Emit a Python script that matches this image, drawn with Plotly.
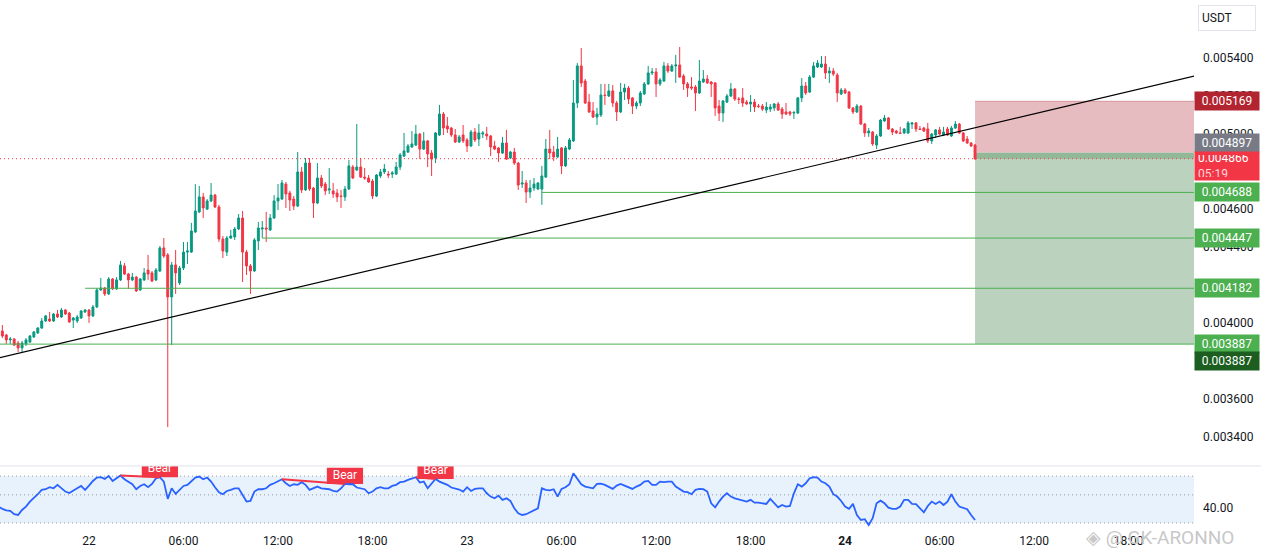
import pandas as pd
import plotly.graph_objects as go

# =====================================================
# Data  (15 minute candles, prices in 1e-6 USDT)
# =====================================================

START = "2025-07-21 18:15"

OPEN = [
    4025, 3956, 3935, 3909, 3914, 3893, 3867, 3888, 3898, 3925,
    3946, 3972, 4009, 4020, 4009, 4046, 4030, 4067, 4051, 4014,
    4009, 4025, 4057, 4067, 4036, 4083, 4173, 4183, 4152, 4231,
    4178, 4226, 4300, 4257, 4226, 4241, 4173, 4226, 4278, 4263,
    4226, 4273, 4395, 4358, 4136, 4305, 4210, 4289, 4373, 4373,
    4479, 4585, 4664, 4600, 4643, 4674, 4611, 4442, 4373, 4447,
    4453, 4495, 4553, 4373, 4300, 4273, 4432, 4495, 4500, 4490,
    4553, 4643, 4653, 4732, 4685, 4653, 4616, 4796, 4701, 4843,
    4711, 4632, 4764, 4732, 4701, 4696, 4685, 4669, 4664, 4706,
    4822, 4806, 4822, 4769, 4764, 4748, 4669, 4775, 4796, 4785,
    4785, 4785, 4822, 4880, 4901, 4928, 4938, 4996, 4917, 4960,
    4896, 4870, 4991, 5102, 5039, 5028, 4991, 4954, 4991, 4965,
    4933, 5007, 4970, 4996, 4996, 4986, 4933, 4923, 4896, 4949,
    4870, 4901, 4843, 4732, 4738, 4690, 4711, 4706, 4706, 4769,
    4917, 4901, 4875, 4923, 4828, 4917, 4960, 5160, 5356, 5276,
    5165, 5118, 5086, 5097, 5202, 5197, 5224, 5160, 5113, 5218,
    5239, 5187, 5144, 5160, 5208, 5261, 5319, 5324, 5261, 5276,
    5356, 5329, 5356, 5361, 5303, 5261, 5245, 5245, 5213, 5271,
    5287, 5271, 5266, 5144, 5107, 5165, 5197, 5234, 5181, 5187,
    5165, 5155, 5165, 5144, 5144, 5123, 5128, 5134, 5155, 5128,
    5113, 5113, 5107, 5107, 5187, 5250, 5218, 5297, 5350, 5350,
    5366, 5319, 5329, 5308, 5208, 5229, 5218, 5134, 5113, 5144,
    5049, 5002, 5007, 4938, 4986, 5065, 5081, 5023, 5012, 5002,
    5002, 5002, 5049, 5055, 5023, 5028, 5023, 4960, 4991, 5018,
    4991, 5023, 4986, 5028, 5049, 5002, 4970, 4949, 4938,
]

HIGH = [
    4036, 3988, 3941, 3925, 3919, 3904, 3904, 3919, 3935, 3956,
    3977, 4025, 4041, 4057, 4051, 4067, 4078, 4072, 4057, 4030,
    4041, 4067, 4072, 4072, 4094, 4183, 4236, 4189, 4241, 4236,
    4241, 4326, 4315, 4263, 4263, 4247, 4236, 4289, 4358, 4273,
    4289, 4405, 4447, 4368, 4321, 4384, 4300, 4426, 4426, 4527,
    4732, 4722, 4685, 4653, 4738, 4680, 4622, 4458, 4458, 4490,
    4505, 4574, 4590, 4384, 4310, 4447, 4532, 4537, 4585, 4574,
    4674, 4732, 4754, 4743, 4696, 4669, 4901, 4822, 4870, 4870,
    4717, 4843, 4780, 4743, 4817, 4738, 4706, 4701, 4722, 4859,
    4833, 5049, 4870, 4817, 4780, 4759, 4785, 4812, 4838, 4801,
    4801, 4849, 4896, 5002, 4944, 5012, 5044, 5002, 5007, 4965,
    4912, 5007, 5150, 5113, 5086, 5034, 5023, 4991, 5044, 4975,
    5018, 5028, 5049, 5012, 5034, 4991, 4960, 4928, 4981, 5018,
    4907, 4923, 4849, 4801, 4754, 4754, 4764, 4743, 4828, 4970,
    5018, 4933, 4981, 4928, 4933, 4975, 5282, 5371, 5451, 5287,
    5208, 5165, 5134, 5261, 5261, 5261, 5255, 5171, 5266, 5261,
    5250, 5192, 5171, 5224, 5271, 5356, 5345, 5345, 5292, 5377,
    5371, 5366, 5414, 5456, 5313, 5271, 5297, 5255, 5387, 5334,
    5308, 5276, 5271, 5176, 5176, 5208, 5266, 5239, 5192, 5239,
    5176, 5202, 5181, 5155, 5155, 5165, 5155, 5160, 5165, 5139,
    5160, 5118, 5118, 5192, 5292, 5271, 5308, 5377, 5387, 5408,
    5408, 5350, 5345, 5319, 5239, 5239, 5224, 5139, 5155, 5150,
    5055, 5028, 5012, 4996, 5076, 5097, 5086, 5028, 5018, 5034,
    5028, 5065, 5060, 5060, 5039, 5034, 5055, 5002, 5023, 5034,
    5034, 5034, 5039, 5065, 5055, 5007, 4986, 4954, 4944,
]

LOW = [
    3956, 3919, 3888, 3888, 3877, 3845, 3845, 3877, 3893, 3919,
    3941, 3967, 4004, 4004, 4004, 4025, 4025, 4041, 3999, 3972,
    3999, 4020, 4051, 3999, 4030, 4078, 4168, 4141, 4146, 4173,
    4173, 4220, 4252, 4178, 4220, 4162, 4168, 4220, 4226, 4215,
    4220, 4268, 4342, 3449, 3882, 4152, 4199, 4278, 4310, 4368,
    4474, 4579, 4553, 4595, 4637, 4606, 4426, 4342, 4352, 4442,
    4437, 4490, 4215, 4252, 4152, 4268, 4384, 4447, 4426, 4484,
    4548, 4595, 4648, 4606, 4590, 4595, 4611, 4685, 4696, 4696,
    4553, 4627, 4711, 4674, 4680, 4659, 4637, 4606, 4643, 4701,
    4759, 4801, 4764, 4754, 4738, 4653, 4664, 4764, 4785, 4764,
    4764, 4780, 4806, 4875, 4896, 4923, 4933, 4864, 4912, 4822,
    4775, 4843, 4986, 4991, 5002, 4981, 4949, 4949, 4949, 4901,
    4928, 4954, 4933, 4975, 4965, 4880, 4912, 4849, 4891, 4859,
    4864, 4833, 4701, 4711, 4632, 4659, 4696, 4701, 4622, 4764,
    4864, 4854, 4870, 4785, 4822, 4912, 4954, 5134, 5245, 5155,
    5107, 5081, 5044, 5086, 5150, 5192, 5139, 5065, 5107, 5176,
    5155, 5102, 5128, 5144, 5202, 5255, 5308, 5192, 5250, 5271,
    5319, 5324, 5266, 5292, 5229, 5192, 5229, 5118, 5208, 5266,
    5261, 5192, 5092, 5065, 5060, 5160, 5192, 5171, 5155, 5139,
    5150, 5113, 5113, 5134, 5118, 5107, 5113, 5118, 5118, 5076,
    5097, 5092, 5076, 5102, 5165, 5202, 5213, 5292, 5345, 5345,
    5287, 5266, 5303, 5165, 5202, 5208, 5128, 5102, 5107, 5044,
    4981, 4981, 4933, 4917, 4981, 5060, 5018, 4991, 4996, 4996,
    4996, 4996, 5023, 5007, 5018, 5007, 4949, 4944, 4975, 4991,
    4986, 4986, 4981, 5023, 4996, 4954, 4944, 4928, 4859,
]

CLOSE = [
    3962, 3930, 3909, 3914, 3882, 3867, 3893, 3909, 3930, 3951,
    3972, 4009, 4036, 4009, 4046, 4030, 4067, 4046, 4004, 4025,
    4030, 4062, 4067, 4036, 4083, 4173, 4183, 4152, 4231, 4178,
    4226, 4305, 4257, 4226, 4241, 4168, 4231, 4263, 4257, 4220,
    4278, 4395, 4352, 4136, 4305, 4263, 4289, 4373, 4379, 4484,
    4590, 4664, 4606, 4643, 4674, 4611, 4442, 4379, 4447, 4458,
    4495, 4553, 4373, 4300, 4273, 4437, 4500, 4500, 4495, 4553,
    4643, 4659, 4738, 4680, 4648, 4616, 4796, 4701, 4843, 4706,
    4632, 4764, 4722, 4696, 4706, 4680, 4664, 4667, 4706, 4828,
    4764, 4822, 4769, 4764, 4743, 4669, 4780, 4796, 4812, 4780,
    4791, 4822, 4886, 4907, 4933, 4944, 4996, 4917, 4960, 4891,
    4864, 5002, 5102, 5028, 5023, 4991, 4954, 4981, 4960, 4933,
    5007, 4965, 5002, 5002, 4986, 4928, 4917, 4896, 4949, 4864,
    4901, 4843, 4727, 4738, 4690, 4711, 4732, 4738, 4775, 4917,
    4896, 4875, 4917, 4828, 4923, 4965, 5160, 5356, 5266, 5160,
    5113, 5086, 5102, 5202, 5200, 5224, 5160, 5113, 5218, 5239,
    5181, 5144, 5160, 5213, 5261, 5319, 5324, 5261, 5282, 5356,
    5329, 5356, 5361, 5297, 5261, 5239, 5239, 5213, 5276, 5287,
    5266, 5261, 5134, 5107, 5171, 5197, 5234, 5181, 5179, 5160,
    5155, 5165, 5139, 5142, 5128, 5139, 5139, 5155, 5123, 5102,
    5102, 5102, 5110, 5187, 5250, 5213, 5297, 5356, 5371, 5366,
    5319, 5329, 5313, 5213, 5229, 5213, 5134, 5113, 5144, 5049,
    5002, 5012, 4944, 4986, 5070, 5081, 5023, 5007, 5002, 5000,
    5023, 5055, 5055, 5023, 5020, 5012, 4960, 4996, 5018, 4996,
    5007, 4991, 5028, 5049, 5002, 4960, 4949, 4933, 4866,
]

RSI = [
    40.5, 39.0, 38.1, 37.7, 35.6, 35.1, 38.3, 40.5, 43.7, 45.8,
    48.4, 51.2, 51.6, 52.9, 52.2, 54.4, 52.2, 50.1, 49.2, 50.5,
    52.2, 53.7, 51.2, 53.9, 56.9, 59.1, 59.3, 58.2, 60.1, 56.9,
    58.6, 60.4, 58.0, 56.5, 54.8, 51.6, 53.7, 54.8, 52.9, 55.0,
    58.6, 59.3, 56.5, 45.4, 52.2, 48.6, 51.2, 53.7, 54.4, 56.9,
    59.1, 59.7, 58.0, 59.1, 56.5, 52.9, 49.7, 48.4, 50.5, 51.2,
    52.2, 52.2, 47.5, 43.7, 44.1, 50.1, 51.6, 51.6, 52.2, 54.4,
    55.4, 56.5, 58.0, 55.4, 53.7, 54.8, 54.4, 56.1, 54.4, 51.2,
    52.2, 53.3, 52.2, 51.8, 51.6, 50.5, 50.1, 52.2, 55.0, 54.8,
    54.8, 52.7, 52.2, 51.6, 49.0, 50.1, 52.2, 52.9, 52.2, 52.2,
    53.7, 54.4, 56.1, 56.5, 57.6, 58.6, 59.3, 55.9, 56.5, 52.2,
    55.4, 58.2, 56.5, 55.4, 54.4, 52.7, 52.2, 51.4, 50.1, 52.9,
    50.5, 51.8, 52.2, 52.2, 49.0, 46.9, 45.8, 47.5, 44.8, 45.8,
    44.1, 39.4, 36.2, 35.1, 35.6, 36.8, 37.7, 39.4, 52.2, 51.2,
    50.9, 51.6, 46.9, 51.8, 52.9, 54.8, 61.8, 58.2, 54.8, 53.3,
    52.7, 52.2, 55.0, 55.2, 54.4, 52.9, 51.8, 53.9, 55.0, 53.9,
    52.9, 51.8, 53.3, 54.4, 56.5, 56.9, 54.4, 54.4, 56.5, 56.1,
    56.5, 56.5, 53.3, 51.6, 50.1, 49.7, 48.4, 51.2, 51.8, 51.6,
    50.1, 42.6, 40.0, 43.7, 46.9, 49.0, 46.9, 45.8, 45.2, 44.3,
    43.7, 44.8, 43.0, 43.0, 42.6, 42.2, 45.4, 42.6, 40.0, 41.5,
    40.5, 40.9, 49.0, 54.8, 53.3, 55.4, 58.6, 59.3, 59.1, 56.5,
    55.4, 53.3, 48.4, 46.9, 44.1, 40.5, 39.0, 42.2, 35.1, 31.9,
    32.4, 28.7, 33.0, 42.6, 44.3, 42.6, 39.8, 39.0, 39.0, 40.5,
    44.8, 44.8, 42.2, 42.0, 39.4, 36.8, 40.9, 43.7, 42.2, 43.7,
    41.5, 43.7, 48.4, 43.7, 40.5, 39.4, 38.8, 35.1, 31.9,
]

RSI_LEVELS = [30, 48, 60]

TICK_TIMES = [
    "2025-07-22 00:00", "2025-07-22 06:00", "2025-07-22 12:00", "2025-07-22 18:00",
    "2025-07-23 00:00", "2025-07-23 06:00", "2025-07-23 12:00", "2025-07-23 18:00",
    "2025-07-24 00:00", "2025-07-24 06:00", "2025-07-24 12:00", "2025-07-24 18:00",
]
TICK_TEXT = [
    "22", "06:00", "12:00", "18:00",
    "23", "06:00", "12:00", "18:00",
    "<b>24</b>", "06:00", "12:00", "18:00",
]

# price scale ticks that are not covered by the coloured labels
PRICE_TICKS = [0.0034, 0.0036, 0.0040, 0.0044,
               0.0046, 0.0050, 0.0052, 0.0054]

# position tool
STOP_PRICE = 0.005169
ENTRY_PRICE = 0.004897
LAST_PRICE = 0.004866
TARGET_PRICE = 0.003887
TIMER = "05:19"

# horizontal support levels and the candle they start from
LEVEL_PRICES = [0.004688, 0.004447, 0.004182, 0.003887]
LEVEL_START = [138, 67, 22, -5]

# trend line (candle index, price)
TREND_IDX = [-10, 320]
TREND_PRICE = [0.003765, 0.005382]

# bearish divergences on the RSI (candle index)
BEAR_START = [31, 72, 106]
BEAR_END = [41, 88, 111]

# =====================================================
# Colours
# =====================================================

GREEN = "#089981"
RED = "#f23645"
LEVEL_GREEN = "#4caf50"
TEXT = "#131722"
FONT = "Roboto, Liberation Sans, sans-serif"

RSI_RANGE = [24.2, 66.5]

# =====================================================
# Helpers
# =====================================================

t0 = pd.Timestamp(START)
step = pd.Timedelta(minutes=15)


def at(i):
    return (t0 + step * i).strftime("%Y-%m-%d %H:%M:%S")


times = [at(i) for i in range(len(CLOSE))]
scale = 1e-6
opens = [v * scale for v in OPEN]
highs = [v * scale for v in HIGH]
lows = [v * scale for v in LOW]
closes = [v * scale for v in CLOSE]

x_lo = at(0.4)
x_hi = at(303.6)
last = len(CLOSE) - 1

# =====================================================
# Traces
# =====================================================

fig = go.Figure()

fig.add_trace(go.Candlestick(
    x=times, open=opens, high=highs, low=lows, close=closes,
    increasing=dict(line=dict(color=GREEN, width=1), fillcolor=GREEN),
    decreasing=dict(line=dict(color=RED, width=1), fillcolor=RED),
    whiskerwidth=0, hoverinfo="skip", xaxis="x", yaxis="y",
))

fig.add_trace(go.Scatter(
    x=times, y=RSI, mode="lines",
    line=dict(color="#2962ff", width=1.8),
    hoverinfo="skip", xaxis="x2", yaxis="y2",
))

bx, by = [], []
for s, e in zip(BEAR_START, BEAR_END):
    bx += [at(s), at(e), None]
    by += [RSI[s], RSI[e], None]

fig.add_trace(go.Scatter(
    x=bx, y=by, mode="lines", line=dict(color=RED, width=2),
    hoverinfo="skip", xaxis="x2", yaxis="y2",
))

fig.add_trace(go.Scatter(
    x=[at(e) for e in BEAR_END],
    y=[RSI[e] + 5.1 for e in BEAR_END],
    mode="text", text=["Bear"] * len(BEAR_END),
    textfont=dict(color="white", size=12, family=FONT),
    hoverinfo="skip", xaxis="x2", yaxis="y2", cliponaxis=True,
))

# =====================================================
# Shapes
# =====================================================

shapes = []

# position tool zones
shapes.append(dict(type="rect", xref="x", yref="y", x0=times[last], x1=x_hi,
                   y0=ENTRY_PRICE, y1=STOP_PRICE, fillcolor="#e6bcc0",
                   line=dict(width=0), layer="below"))
shapes.append(dict(type="rect", xref="x", yref="y", x0=times[last], x1=x_hi,
                   y0=TARGET_PRICE, y1=ENTRY_PRICE, fillcolor="#bbd2be",
                   line=dict(width=0), layer="below"))
shapes.append(dict(type="rect", xref="x", yref="y", x0=times[last], x1=x_hi,
                   y0=LAST_PRICE, y1=ENTRY_PRICE, fillcolor="#93b898",
                   line=dict(width=0), layer="below"))
shapes.append(dict(type="line", xref="x", yref="y", x0=times[last], x1=x_hi,
                   y0=STOP_PRICE, y1=STOP_PRICE,
                   line=dict(color="#d9949b", width=1)))

# support levels
for p, s in zip(LEVEL_PRICES, LEVEL_START):
    shapes.append(dict(type="line", xref="x", yref="y", x0=at(s), x1=x_hi,
                       y0=p, y1=p, line=dict(color=LEVEL_GREEN, width=1)))

# last price dotted line
shapes.append(dict(type="line", xref="x", yref="y", x0=x_lo, x1=x_hi,
                   y0=LAST_PRICE, y1=LAST_PRICE,
                   line=dict(color=RED, width=1, dash="1px,3px")))

# trend line
shapes.append(dict(type="line", xref="x", yref="y",
                   x0=at(TREND_IDX[0]), x1=at(TREND_IDX[1]),
                   y0=TREND_PRICE[0], y1=TREND_PRICE[1],
                   line=dict(color="#000000", width=1.2)))

# RSI band and levels
shapes.append(dict(type="rect", xref="x2", yref="y2", x0=x_lo, x1=x_hi,
                   y0=RSI_LEVELS[0], y1=RSI_LEVELS[-1], fillcolor="#e8f2fd",
                   line=dict(width=0), layer="below"))
for lv in RSI_LEVELS:
    shapes.append(dict(type="line", xref="x2", yref="y2", x0=x_lo, x1=x_hi,
                       y0=lv, y1=lv, layer="below",
                       line=dict(color="#9598a1", width=1, dash="1px,3px")))

# Bear label boxes (cut at the top of the RSI pane)
for e in BEAR_END:
    shapes.append(dict(type="rect", xref="x2", yref="y2",
                       x0=at(e - 4.6), x1=at(e + 4.6),
                       y0=RSI[e], y1=min(RSI[e] + 10.3, RSI_RANGE[1]),
                       fillcolor=RED, line=dict(width=0), layer="below"))

# pane separator
shapes.append(dict(type="line", xref="paper", yref="paper", x0=0, x1=1.06,
                   y0=0.1241, y1=0.1241, line=dict(color="#e0e3eb", width=1)))

# =====================================================
# Annotations (price scale labels)
# =====================================================

annotations = []

price_labels = [
    (STOP_PRICE, "#b2242f", 0),
    (ENTRY_PRICE, "#787b86", 10),
    (0.004688, LEVEL_GREEN, 0),
    (0.004447, LEVEL_GREEN, 0),
    (0.004182, LEVEL_GREEN, 0),
    (TARGET_PRICE, LEVEL_GREEN, 0),
    (TARGET_PRICE, "#1b5e20", -17),
]
for p, col, shift in price_labels:
    annotations.append(dict(
        x=1, xref="paper", xanchor="left", y=p, yref="y", yanchor="middle",
        yshift=shift, text=f"{p:.6f}", showarrow=False, bgcolor=col,
        font=dict(color="white", size=12, family=FONT),
        width=60, height=14, borderpad=2, align="center",
    ))

annotations.append(dict(
    x=1, xref="paper", xanchor="left", y=LAST_PRICE, yref="y", yanchor="top",
    yshift=8, text=f"{LAST_PRICE:.6f}<br><span style='color:#ffd6da'>{TIMER}</span>",
    showarrow=False, bgcolor=RED,
    font=dict(color="white", size=12, family=FONT),
    width=58, height=22, borderpad=3, align="left",
))

annotations.append(dict(
    x=1, xref="paper", xanchor="left", xshift=4, y=1, yref="paper",
    yanchor="top", yshift=-5, text="USDT", showarrow=False,
    bgcolor="white", bordercolor="#e0e3eb", borderwidth=1, borderpad=3,
    width=50, height=18, align="left",
    font=dict(color=TEXT, size=12, family=FONT),
))

annotations.append(dict(
    x=0.9715, xref="paper", y=-0.0094, yref="paper", xanchor="center",
    yanchor="middle", text="◈ @ GK-ARONNO", showarrow=False,
    font=dict(color="#c8c8c8", size=19, family=FONT),
))

# =====================================================
# Layout
# =====================================================

fig.update_layout(
    width=1261, height=560,
    margin=dict(l=0, r=67, t=0, b=28),
    paper_bgcolor="white", plot_bgcolor="white",
    showlegend=False,
    font=dict(family=FONT, size=12, color=TEXT),
    xaxis=dict(domain=[0, 1], anchor="y", type="date", range=[x_lo, x_hi],
               showticklabels=False, showgrid=False, zeroline=False,
               rangeslider=dict(visible=False)),
    yaxis=dict(domain=[0.1353, 1], anchor="x", side="right",
               range=[0.003275, 0.005704], tickvals=PRICE_TICKS,
               ticktext=[f"{v:.6f}" for v in PRICE_TICKS],
               showgrid=False, zeroline=False, ticks="",
               ticklabelstandoff=8),
    xaxis2=dict(domain=[0, 1], anchor="y2", type="date", range=[x_lo, x_hi],
                tickvals=TICK_TIMES, ticktext=TICK_TEXT, showgrid=False,
                zeroline=False, ticks=""),
    yaxis2=dict(domain=[0, 0.1241], anchor="x2", side="right",
                range=RSI_RANGE, tickvals=[40], ticktext=["40.00"],
                showgrid=False, zeroline=False, ticks="",
                ticklabelstandoff=8),
    shapes=shapes,
    annotations=annotations,
)

fig.write_html(
    "out.html",
    config={"displayModeBar": False},
    post_script="document.body.style.margin='0';document.body.style.overflow='hidden';",
)
